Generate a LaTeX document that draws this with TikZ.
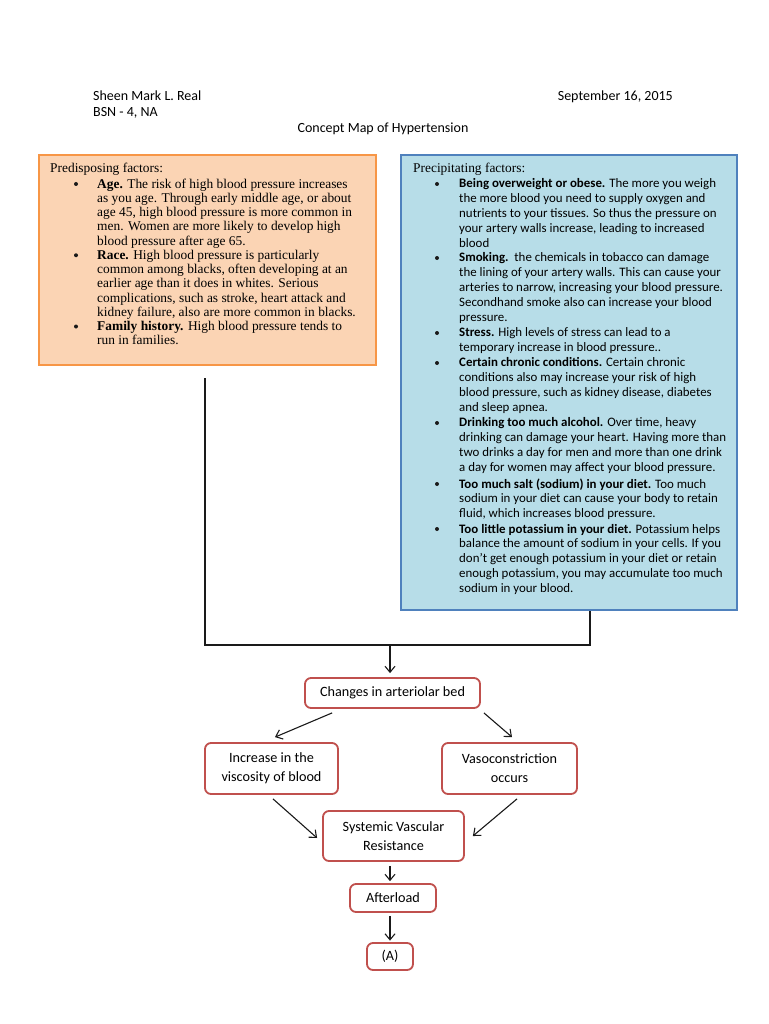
\documentclass[tikz,border=0pt]{standalone}
\usepackage{fontspec}
\setmainfont{Carlito}
\newfontfamily\camb{Liberation Serif}
\usetikzlibrary{arrows.meta,calc}
\definecolor{orfill}{HTML}{FBD4B4}
\definecolor{ordraw}{HTML}{F79646}
\definecolor{blfill}{HTML}{B7DDE8}
\definecolor{bldraw}{HTML}{4F81BD}
\definecolor{rdraw}{HTML}{C0504D}
\definecolor{ink}{HTML}{1A1A1A}
\begin{document}
\begin{tikzpicture}[x=1pt,y=-1pt,
  hdr/.style={inner sep=0, font=\fontsize{14}{16}\selectfont},
  ltext/.style={anchor=north west, inner sep=0, align=left, font=\camb\fontsize{13.4}{14.25}\selectfont},
  rtext/.style={anchor=north west, inner sep=0, align=left, font=\fontsize{12.9}{14.85}\selectfont},
  bigbox/.style={inner sep=0, line width=2pt},
  flow/.style={draw=rdraw, line width=1.8pt, rounded corners=6pt, fill=white, align=center, inner sep=0, font=\fontsize{14.2}{19}\selectfont},
  conn/.style={line width=1.1pt, draw=ink},
  arr/.style={conn, -{Straight Barb[length=6pt,width=10pt]}},
]
\useasboundingbox (0,0) rectangle (768,1024);
\fill[white] (0,0) rectangle (768,1024);

% header
\node[hdr, anchor=base west] (name) at (93,100.5) {Sheen Mark L. Real};
\node[hdr, anchor=base west] (bsn) at (93,116.5) {BSN - 4, NA};
\node[hdr, anchor=base east] (date) at (673,100.5) {September 16, 2015};
\node[hdr, anchor=base] (title) at (383,132.5) {Concept Map of Hypertension};

% boxes
\node[bigbox, draw=ordraw, fill=orfill, minimum width=337pt, minimum height=210pt] (lbox) at (207.5,260) {};
\node[bigbox, draw=bldraw, fill=blfill, minimum width=336pt, minimum height=455pt] (rbox) at (569,382.5) {};

% left box text
\node[ltext] (lhead) at (50,162) {\strut Predisposing factors:};
\node[ltext] (l1) at (97,178) {\strut\textbf{Age.} The risk of high blood pressure increases\\as you age. Through early middle age, or about\\age 45, high blood pressure is more common in\\men. Women are more likely to develop high\\blood pressure after age 65.};
\node[ltext] (l2) at (97,249.25) {\strut\textbf{Race.} High blood pressure is particularly\\common among blacks, often developing at an\\earlier age than it does in whites. Serious\\complications, such as stroke, heart attack and\\kidney failure, also are more common in blacks.};
\node[ltext] (l3) at (97,320.5) {\strut\textbf{Family history.} High blood pressure tends to\\run in families.};
\foreach \y in {184,255.25,326.5} \fill[ink] (76,\y) circle (2pt);

% right box text
\node[ltext] (rhead) at (413,162) {\strut Precipitating factors:};
\node[rtext] (r1) at (459,177.4) {\strut\textbf{Being overweight or obese.} The more you weigh\\the more blood you need to supply oxygen and\\nutrients to your tissues. So thus the pressure on\\your artery walls increase, leading to increased\\blood};
\node[rtext] (r2) at (459,251.4) {\strut\textbf{Smoking.}\ \ the chemicals in tobacco can damage\\the lining of your artery walls. This can cause your\\arteries to narrow, increasing your blood pressure.\\Secondhand smoke also can increase your blood\\pressure.};
\node[rtext] (r3) at (459,326.4) {\strut\textbf{Stress.} High levels of stress can lead to a\\temporary increase in blood pressure..};
\node[rtext] (r4) at (459,356.4) {\strut\textbf{Certain chronic conditions.} Certain chronic\\conditions also may increase your risk of high\\blood pressure, such as kidney disease, diabetes\\and sleep apnea.};
\node[rtext] (r5) at (459,416.4) {\strut\textbf{Drinking too much alcohol.} Over time, heavy\\drinking can damage your heart. Having more than\\two drinks a day for men and more than one drink\\a day for women may affect your blood pressure.};
\node[rtext] (r6) at (459,477.4) {\strut\textbf{Too much salt (sodium) in your diet.} Too much\\sodium in your diet can cause your body to retain\\fluid, which increases blood pressure.};
\node[rtext] (r7) at (459,522.4) {\strut\textbf{Too little potassium in your diet.} Potassium helps\\balance the amount of sodium in your cells. If you\\don't get enough potassium in your diet or retain\\enough potassium, you may accumulate too much\\sodium in your blood.};
\foreach \y in {184,258,333,363,423,484,529} \fill[ink] (437,\y) circle (2pt);

% flow nodes
\node[flow, minimum width=175pt, minimum height=30pt] (ch) at (392.5,693) {Changes in arteriolar bed};
\node[flow, minimum width=133pt, minimum height=51pt] (inc) at (271.5,768.5) {Increase in the\\viscosity of blood};
\node[flow, minimum width=135pt, minimum height=51pt] (vaso) at (509.5,768.5) {Vasoconstriction\\occurs};
\node[flow, minimum width=141pt, minimum height=50pt] (svr) at (393.5,836) {Systemic Vascular\\Resistance};
\node[flow, minimum width=86pt, minimum height=28pt] (aft) at (393,898) {Afterload};
\node[flow, minimum width=46pt, minimum height=27pt] (a) at (390,956.5) {(A)};

% connectors
\coordinate (ls) at (205,378);
\coordinate (jl) at (205,645);
\coordinate (jr) at (590,645);
\coordinate (jm) at (390,645);
\draw[conn] (ls) -- (jl) -- (jr) -- (rbox.south -| jr);
\draw[arr] (jm) -- ($(jm |- ch.north)+(0,-4)$);
\draw[arr] ($(ch.south west)+(28,4)$) -- ($(inc.north)+(3.5,-5)$);
\draw[arr] ($(ch.south east)+(3,4)$) -- ($(vaso.north)+(2.5,-5)$);
\draw[arr] ($(inc.south)+(1.5,4)$) -- ($(svr.west)+(-5,2)$);
\draw[arr] ($(vaso.south)+(7.5,4)$) -- ($(svr.east)+(8,0)$);
\draw[arr] ($(svr.south)+(-3.5,4)$) -- ($(aft.north)+(-3,-2)$);
\draw[arr] ($(aft.south)+(-3,3)$) -- ($(a.north)+(0,-1.5)$);
\end{tikzpicture}
\end{document}
